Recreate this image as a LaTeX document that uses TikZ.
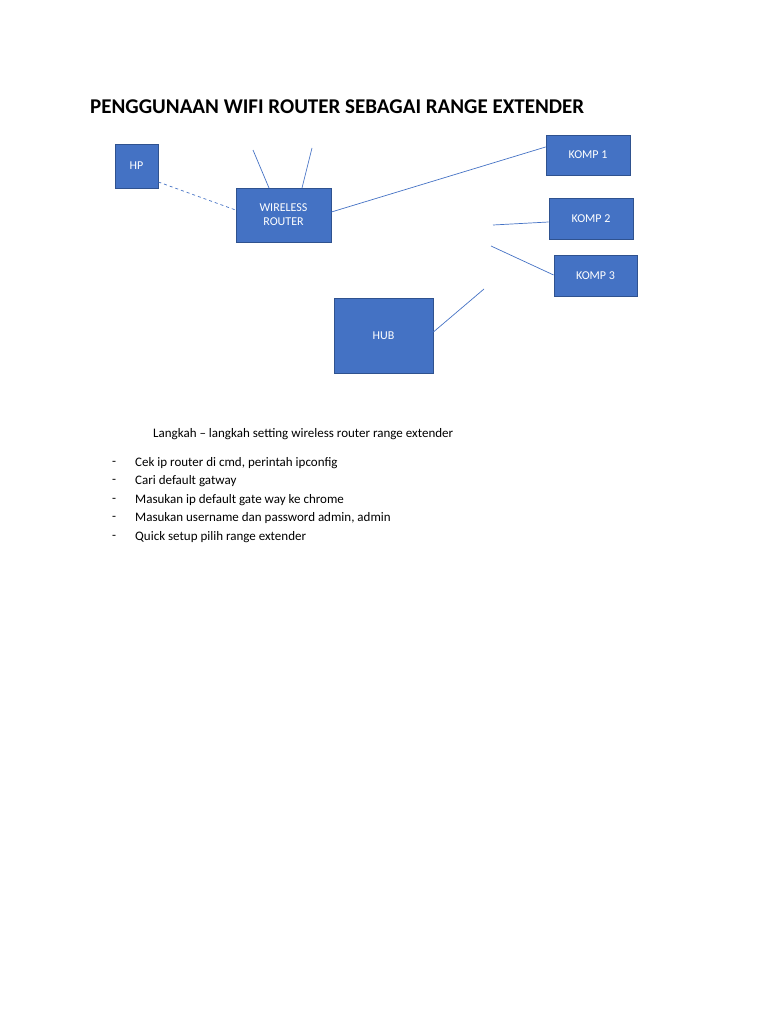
\documentclass[tikz,border=0pt]{standalone}
\usepackage{fontspec}
\setmainfont{Carlito}
\definecolor{boxblue}{HTML}{4472C4}
\definecolor{edgeblue}{HTML}{2F528F}
\definecolor{lineblue}{HTML}{4472C4}
\begin{document}
\begin{tikzpicture}[x=1pt,y=-1pt,
  dev/.style={draw=edgeblue,fill=boxblue,text=white,font=\fontsize{12}{14}\selectfont,align=center,inner sep=0pt,line width=0.8pt},
  link/.style={draw=lineblue,line width=0.7pt},
  body/.style={font=\fontsize{13}{15}\selectfont,anchor=west,inner sep=0pt}]
\useasboundingbox (0,0) rectangle (768,1024);
\node[font=\bfseries\fontsize{21}{24}\selectfont,anchor=west,inner sep=0pt] (title) at (90,107) {PENGGUNAAN WIFI ROUTER SEBAGAI RANGE EXTENDER};
\node[dev,minimum width=43pt,minimum height=44pt] (hp) at (136.5,166) {HP};
\node[dev,minimum width=95pt,minimum height=54pt] (router) at (283.5,215) {WIRELESS\\ROUTER};
\node[dev,minimum width=84pt,minimum height=40pt] (k1) at (588,155) {KOMP 1};
\node[dev,minimum width=84pt,minimum height=41pt] (k2) at (591,218.5) {KOMP 2};
\node[dev,minimum width=83pt,minimum height=41pt] (k3) at (595.5,275.5) {KOMP 3};
\node[dev,minimum width=99pt,minimum height=75pt] (hub) at (383.5,335.5) {HUB};
\coordinate (a1) at (253,150);
\coordinate (a2) at (312,148);
\coordinate (r1) at (269,188);
\coordinate (r2) at (302,188);
\coordinate (e2) at (493,225);
\coordinate (e3) at (491,246);
\coordinate (eh) at (484,289);
\draw[link,dashed] (hp.east |- 0,182) -- (router.west |- 0,210);
\draw[link] (a1) -- (r1);
\draw[link] (a2) -- (r2);
\draw[link] (router.east |- 0,212) -- (k1.west |- 0,147);
\draw[link] (e2) -- (k2.west |- 0,222);
\draw[link] (e3) -- (k3.west |- 0,275);
\draw[link] (hub.east |- 0,332) -- (eh);
\node[body] (intro) at (153,434) {Langkah – langkah setting wireless router range extender};
\foreach \y/\t [count=\i] in {463/Cek ip router di cmd{,} perintah ipconfig,481/Cari default gatway,500/Masukan ip default gate way ke chrome,518/Masukan username dan password admin{,} admin,537/Quick setup pilih range extender}{
  \node[body] (d\i) at (112,\y) {-};
  \node[body] (s\i) at (135,\y) {\t};
}
\end{tikzpicture}
\end{document}
